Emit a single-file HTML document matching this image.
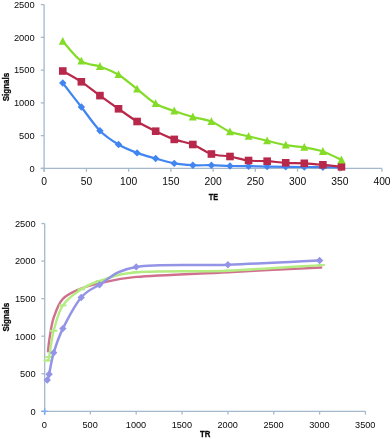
<!DOCTYPE html>
<html lang="en"><head><meta charset="utf-8"><title>Signals vs TE and TR</title>
<style>html,body{margin:0;padding:0;background:#fff}svg{display:block}</style></head>
<body>
<svg width="392" height="439" viewBox="0 0 392 439">
<rect width="392" height="439" fill="#fff"/>
<g stroke="#A4B9CC" stroke-width="1.3" fill="none"><path d="M44.1 4.6 V171.7"/><path d="M40.8 168.4 H382"/><path d="M40.8 168.4 H44.1"/><path d="M40.8 135.64 H44.1"/><path d="M40.8 102.88 H44.1"/><path d="M40.8 70.12 H44.1"/><path d="M40.8 37.36 H44.1"/><path d="M40.8 4.6 H44.1"/><path d="M44.2 168.4 V171.7"/><path d="M86.43 168.4 V171.7"/><path d="M128.65 168.4 V171.7"/><path d="M170.88 168.4 V171.7"/><path d="M213.1 168.4 V171.7"/><path d="M255.32 168.4 V171.7"/><path d="M297.55 168.4 V171.7"/><path d="M339.77 168.4 V171.7"/><path d="M382 168.4 V171.7"/></g>
<g font-family="'Liberation Sans',Arial,sans-serif" fill="#0a0a0a">
<g font-size="9.3" text-anchor="end">
<text x="34.6" y="171.65">0</text>
<text x="34.6" y="138.89">500</text>
<text x="34.6" y="106.13">1000</text>
<text x="34.6" y="73.37">1500</text>
<text x="34.6" y="40.61">2000</text>
<text x="34.6" y="7.85">2500</text>
</g>
<g font-size="10.3" text-anchor="middle">
<text x="44.2" y="184.5">0</text>
<text x="86.43" y="184.5">50</text>
<text x="128.65" y="184.5">100</text>
<text x="170.88" y="184.5">150</text>
<text x="213.1" y="184.5">200</text>
<text x="255.32" y="184.5">250</text>
<text x="297.55" y="184.5">300</text>
<text x="339.77" y="184.5">350</text>
<text x="382" y="184.5">400</text>
</g>
<text x="213.4" y="199.6" font-size="9.6" font-weight="bold" stroke="#0a0a0a" stroke-width="0.3" text-anchor="middle" textLength="9.4" lengthAdjust="spacingAndGlyphs">TE</text>
<text transform="translate(8.5 87) rotate(-90)" font-size="9" font-weight="bold" stroke="#0a0a0a" stroke-width="0.3" text-anchor="middle" textLength="28.6" lengthAdjust="spacingAndGlyphs">Signals</text>
</g>
<path d="M62.78 83C65.88 87 75.17 99.05 81.36 107C87.55 114.95 93.74 124.45 99.94 130.7C106.13 136.95 112.32 140.8 118.52 144.5C124.71 148.2 130.9 150.57 137.1 152.9C143.29 155.23 149.48 156.75 155.67 158.5C161.87 160.25 168.06 162.28 174.25 163.4C180.45 164.52 186.64 164.9 192.83 165.2C199.03 165.5 205.22 165.07 211.41 165.2C217.6 165.33 223.8 165.83 229.99 166C236.18 166.17 242.38 166.1 248.57 166.2C254.76 166.3 260.96 166.5 267.15 166.6C273.34 166.7 279.53 166.73 285.73 166.8C291.92 166.87 298.11 166.93 304.31 167C310.5 167.07 316.69 167.13 322.88 167.2C329.08 167.27 338.37 167.37 341.46 167.4" fill="none" stroke="#4185F0" stroke-width="2.2" stroke-linecap="round" stroke-linejoin="round"/><g fill="#4185F0"><path d="M62.78 79.3L66.48 83L62.78 86.7L59.08 83Z"/><path d="M81.36 103.3L85.06 107L81.36 110.7L77.66 107Z"/><path d="M99.94 127L103.64 130.7L99.94 134.4L96.24 130.7Z"/><path d="M118.52 140.8L122.22 144.5L118.52 148.2L114.82 144.5Z"/><path d="M137.1 149.2L140.8 152.9L137.1 156.6L133.4 152.9Z"/><path d="M155.67 154.8L159.37 158.5L155.67 162.2L151.97 158.5Z"/><path d="M174.25 159.7L177.95 163.4L174.25 167.1L170.55 163.4Z"/><path d="M192.83 161.5L196.53 165.2L192.83 168.9L189.13 165.2Z"/><path d="M211.41 161.5L215.11 165.2L211.41 168.9L207.71 165.2Z"/><path d="M229.99 162.3L233.69 166L229.99 169.7L226.29 166Z"/><path d="M248.57 162.5L252.27 166.2L248.57 169.9L244.87 166.2Z"/><path d="M267.15 162.9L270.85 166.6L267.15 170.3L263.45 166.6Z"/><path d="M285.73 163.1L289.43 166.8L285.73 170.5L282.03 166.8Z"/><path d="M304.31 163.3L308.01 167L304.31 170.7L300.61 167Z"/><path d="M322.88 163.5L326.58 167.2L322.88 170.9L319.19 167.2Z"/><path d="M341.46 163.7L345.16 167.4L341.46 171.1L337.76 167.4Z"/></g>
<path d="M62.78 71C65.88 72.8 75.17 77.7 81.36 81.8C87.55 85.9 93.74 91.1 99.94 95.6C106.13 100.1 112.32 104.48 118.52 108.8C124.71 113.12 130.9 117.77 137.1 121.5C143.29 125.23 149.48 128.22 155.67 131.2C161.87 134.18 168.06 137.18 174.25 139.4C180.45 141.62 186.64 142.07 192.83 144.5C199.03 146.93 205.22 152 211.41 154C217.6 156 223.8 155.42 229.99 156.5C236.18 157.58 242.38 159.72 248.57 160.5C254.76 161.28 260.96 160.82 267.15 161.2C273.34 161.58 279.53 162.45 285.73 162.8C291.92 163.15 298.11 162.97 304.31 163.3C310.5 163.63 316.69 164.22 322.88 164.8C329.08 165.38 338.37 166.47 341.46 166.8" fill="none" stroke="#B8284A" stroke-width="2.2" stroke-linecap="round" stroke-linejoin="round"/><g fill="#B8284A"><rect x="58.98" y="67.2" width="7.6" height="7.6"/><rect x="77.56" y="78" width="7.6" height="7.6"/><rect x="96.14" y="91.8" width="7.6" height="7.6"/><rect x="114.72" y="105" width="7.6" height="7.6"/><rect x="133.3" y="117.7" width="7.6" height="7.6"/><rect x="151.87" y="127.4" width="7.6" height="7.6"/><rect x="170.45" y="135.6" width="7.6" height="7.6"/><rect x="189.03" y="140.7" width="7.6" height="7.6"/><rect x="207.61" y="150.2" width="7.6" height="7.6"/><rect x="226.19" y="152.7" width="7.6" height="7.6"/><rect x="244.77" y="156.7" width="7.6" height="7.6"/><rect x="263.35" y="157.4" width="7.6" height="7.6"/><rect x="281.93" y="159" width="7.6" height="7.6"/><rect x="300.51" y="159.5" width="7.6" height="7.6"/><rect x="319.08" y="161" width="7.6" height="7.6"/><rect x="337.66" y="163" width="7.6" height="7.6"/></g>
<path d="M62.78 41.3C65.88 44.6 75.17 56.9 81.36 61.1C87.55 65.3 93.74 64.23 99.94 66.5C106.13 68.77 112.32 70.93 118.52 74.7C124.71 78.47 130.9 84.27 137.1 89.1C143.29 93.93 149.48 100.05 155.67 103.7C161.87 107.35 168.06 108.78 174.25 111C180.45 113.22 186.64 115.23 192.83 117C199.03 118.77 205.22 119.13 211.41 121.6C217.6 124.07 223.8 129.35 229.99 131.8C236.18 134.25 242.38 134.8 248.57 136.3C254.76 137.8 260.96 139.32 267.15 140.8C273.34 142.28 279.53 144.1 285.73 145.2C291.92 146.3 298.11 146.35 304.31 147.4C310.5 148.45 316.69 149.4 322.88 151.5C329.08 153.6 338.37 158.58 341.46 160" fill="none" stroke="#84DC28" stroke-width="2.2" stroke-linecap="round" stroke-linejoin="round"/><g fill="#84DC28"><path d="M62.78 36.9L66.78 44.7L58.78 44.7Z"/><path d="M81.36 56.7L85.36 64.5L77.36 64.5Z"/><path d="M99.94 62.1L103.94 69.9L95.94 69.9Z"/><path d="M118.52 70.3L122.52 78.1L114.52 78.1Z"/><path d="M137.1 84.7L141.1 92.5L133.1 92.5Z"/><path d="M155.67 99.3L159.67 107.1L151.67 107.1Z"/><path d="M174.25 106.6L178.25 114.4L170.25 114.4Z"/><path d="M192.83 112.6L196.83 120.4L188.83 120.4Z"/><path d="M211.41 117.2L215.41 125L207.41 125Z"/><path d="M229.99 127.4L233.99 135.2L225.99 135.2Z"/><path d="M248.57 131.9L252.57 139.7L244.57 139.7Z"/><path d="M267.15 136.4L271.15 144.2L263.15 144.2Z"/><path d="M285.73 140.8L289.73 148.6L281.73 148.6Z"/><path d="M304.31 143L308.31 150.8L300.31 150.8Z"/><path d="M322.88 147.1L326.88 154.9L318.88 154.9Z"/><path d="M341.46 155.6L345.46 163.4L337.46 163.4Z"/></g>
<g stroke="#A4B9CC" stroke-width="1.3" fill="none"><path d="M44.7 223.55 V414.6"/><path d="M41.4 411.3 H365.45"/><path d="M41.4 411.3 H44.7"/><path d="M41.4 373.75 H44.7"/><path d="M41.4 336.2 H44.7"/><path d="M41.4 298.65 H44.7"/><path d="M41.4 261.1 H44.7"/><path d="M41.4 223.55 H44.7"/><path d="M44.5 411.3 V414.6"/><path d="M90.35 411.3 V414.6"/><path d="M136.2 411.3 V414.6"/><path d="M182.05 411.3 V414.6"/><path d="M227.9 411.3 V414.6"/><path d="M273.75 411.3 V414.6"/><path d="M319.6 411.3 V414.6"/><path d="M365.45 411.3 V414.6"/></g>
<path d="M41.3 411.3H48.2M44.7 408V414.7" stroke="#7FAAEC" stroke-width="1.3" fill="none"/>
<g font-family="'Liberation Sans',Arial,sans-serif" fill="#0a0a0a">
<g font-size="9.3" text-anchor="end">
<text x="35.6" y="414.65">0</text>
<text x="35.6" y="377.1">500</text>
<text x="35.6" y="339.55">1000</text>
<text x="35.6" y="302">1500</text>
<text x="35.6" y="264.45">2000</text>
<text x="35.6" y="226.9">2500</text>
</g>
<g font-size="9.9" text-anchor="middle">
<text x="44.3" y="427.8" textLength="5.2" lengthAdjust="spacingAndGlyphs">0</text>
<text x="90.15" y="427.8" textLength="15.24" lengthAdjust="spacingAndGlyphs">500</text>
<text x="136" y="427.8" textLength="20.32" lengthAdjust="spacingAndGlyphs">1000</text>
<text x="181.85" y="427.8" textLength="20.32" lengthAdjust="spacingAndGlyphs">1500</text>
<text x="227.7" y="427.8" textLength="20.32" lengthAdjust="spacingAndGlyphs">2000</text>
<text x="273.55" y="427.8" textLength="20.32" lengthAdjust="spacingAndGlyphs">2500</text>
<text x="319.4" y="427.8" textLength="20.32" lengthAdjust="spacingAndGlyphs">3000</text>
<text x="365.25" y="427.8" textLength="20.32" lengthAdjust="spacingAndGlyphs">3500</text>
</g>
<text x="205.3" y="436.9" font-size="9.6" font-weight="bold" stroke="#0a0a0a" stroke-width="0.3" text-anchor="middle" textLength="10.4" lengthAdjust="spacingAndGlyphs">TR</text>
<text transform="translate(8.5 317.2) rotate(-90)" font-size="9" font-weight="bold" stroke="#0a0a0a" stroke-width="0.3" text-anchor="middle" textLength="28.6" lengthAdjust="spacingAndGlyphs">Signals</text>
</g>
<path d="M48 351.4C48.25 349.25 48.55 344.12 49.5 338.5C50.45 332.88 51.45 324.3 53.67 317.7C55.89 311.1 58.26 303.77 62.84 298.9C67.43 294.03 75.07 291.1 81.18 288.5C87.29 285.9 90.35 285.23 99.52 283.3C108.69 281.37 114.8 278.75 136.2 276.9C157.6 275.05 197.07 273.77 227.9 272.2C258.73 270.63 305.65 268.28 321.2 267.5" fill="none" stroke="#D0708E" stroke-width="2.4" stroke-linecap="round" stroke-linejoin="round"/><g fill="#D0708E"></g>
<path d="M47.25 360.5C47.56 359.92 48.02 361.95 49.09 357C50.15 352.05 51.38 339.4 53.67 330.8C55.96 322.2 58.26 312.32 62.84 305.4C67.43 298.48 75.07 293.37 81.18 289.3C87.29 285.23 90.35 283.83 99.52 281C108.69 278.17 114.8 274.02 136.2 272.3C157.6 270.58 197.07 271.9 227.9 270.7C258.73 269.5 305.65 266.03 321.2 265.1" fill="none" stroke="#B4EC82" stroke-width="2.4" stroke-linecap="round" stroke-linejoin="round"/><g fill="#B4EC82"><rect x="43.55" y="359.5" width="7.4" height="2"/><rect x="45.38" y="356" width="7.4" height="2"/><rect x="49.97" y="329.8" width="7.4" height="2"/><rect x="59.14" y="304.4" width="7.4" height="2"/><rect x="77.48" y="288.3" width="7.4" height="2"/><rect x="95.82" y="280" width="7.4" height="2"/><rect x="132.5" y="271.3" width="7.4" height="2"/><rect x="224.2" y="269.7" width="7.4" height="2"/><rect x="317.5" y="264.1" width="7.4" height="2"/></g>
<path d="M47.25 380C47.56 379.03 48.02 378.73 49.09 374.2C50.15 369.67 51.38 360.4 53.67 352.8C55.96 345.2 58.26 337.82 62.84 328.6C67.43 319.38 75.07 304.8 81.18 297.5C87.29 290.2 90.35 289.9 99.52 284.8C108.69 279.7 114.8 270.23 136.2 266.9C157.6 263.57 197.33 265.87 227.9 264.8C258.47 263.73 304.32 261.22 319.6 260.5" fill="none" stroke="#9494E6" stroke-width="2.5" stroke-linecap="round" stroke-linejoin="round"/><g fill="#9494E6"><path d="M47.25 376.3L50.95 380L47.25 383.7L43.55 380Z"/><path d="M49.09 370.5L52.79 374.2L49.09 377.9L45.38 374.2Z"/><path d="M53.67 349.1L57.37 352.8L53.67 356.5L49.97 352.8Z"/><path d="M62.84 324.9L66.54 328.6L62.84 332.3L59.14 328.6Z"/><path d="M81.18 293.8L84.88 297.5L81.18 301.2L77.48 297.5Z"/><path d="M99.52 281.1L103.22 284.8L99.52 288.5L95.82 284.8Z"/><path d="M136.2 263.2L139.9 266.9L136.2 270.6L132.5 266.9Z"/><path d="M227.9 261.1L231.6 264.8L227.9 268.5L224.2 264.8Z"/><path d="M319.6 256.8L323.3 260.5L319.6 264.2L315.9 260.5Z"/></g>
</svg>
</body></html>
